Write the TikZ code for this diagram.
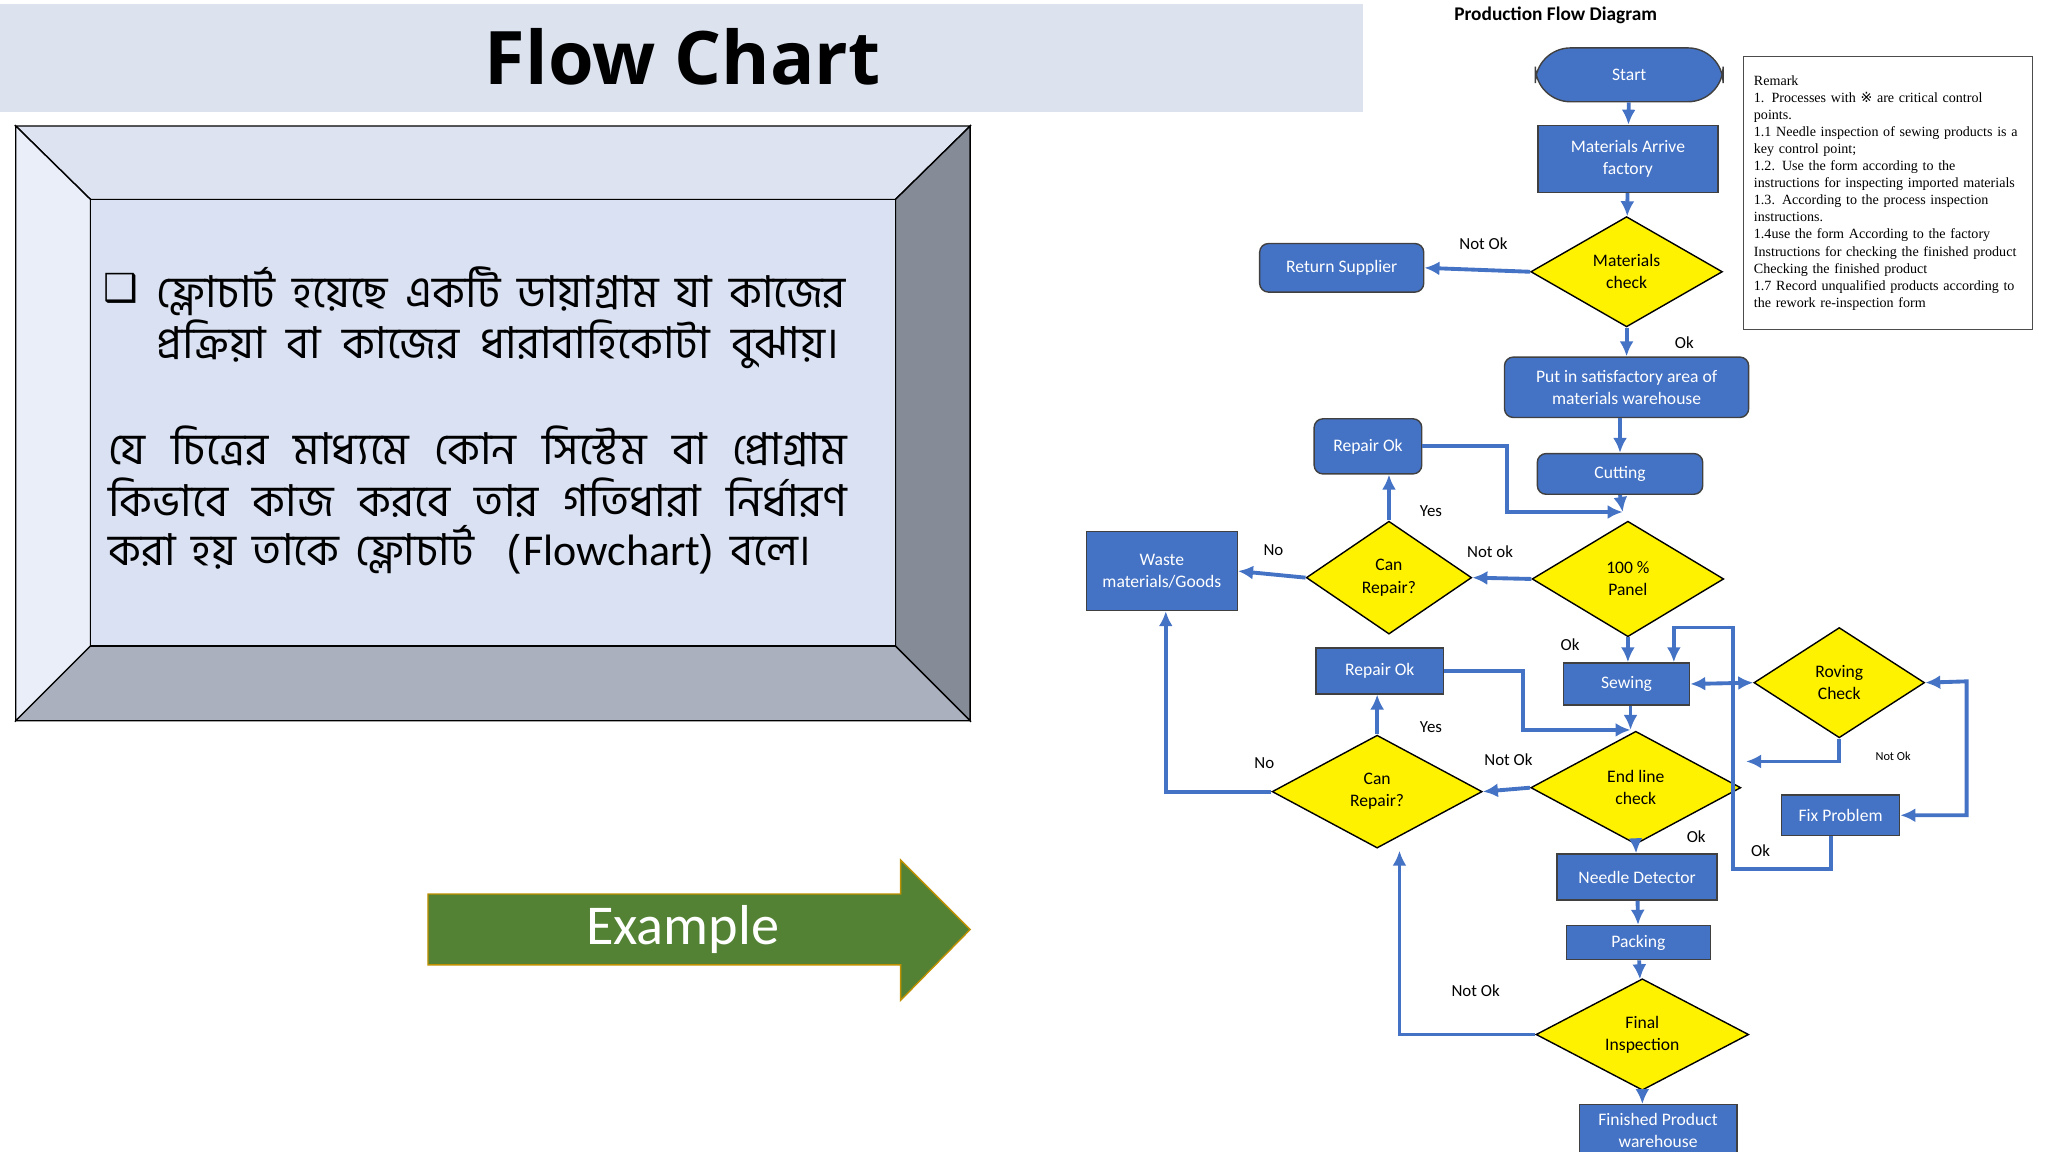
\documentclass[tikz,border=0pt]{standalone}
\usepackage{fontspec}
\usepackage{tikz}
\usetikzlibrary{shapes.geometric, arrows.meta}
\setmainfont{Carlito}
\newfontfamily\bangla[Script=Bengali]{Hind Siliguri}
\newfontfamily\latinfont{Carlito}
\newfontfamily\symfont{DejaVu Sans}
\newfontfamily\titlefont{Open Sans}
\newfontfamily\remfont{Liberation Serif}
\newcommand{\px}{0.013128cm}
\newcommand{\bline}[1]{\makebox[210pt][s]{#1}}

\begin{document}
\begin{tikzpicture}[
    x = 0.013128cm, y = -0.013128cm,
    flow/.style = {line width = 1.1pt, draw = flowblue},
    tip/.style = {-{Latex[length = 1.5mm, width = 1.4mm]}},
    step box/.style = {draw = black!75, fill = flowblue, text = white,
      font = \fontsize{5}{6.3}\selectfont, align = center, inner sep = 1pt},
    rstep/.style = {step box, rounded corners = 2.5pt},
    decision/.style = {diamond, draw = black, fill = yellow, inner sep = 0pt,
      font = \fontsize{5}{6.3}\selectfont, align = center},
    tag/.style = {font = \fontsize{4.8}{5.5}\selectfont},
  ]
  \definecolor{flowblue}{HTML}{4472C4}
  \definecolor{bandgrey}{HTML}{DCE3EF}
  \useasboundingbox (0, 0) rectangle (1560, 877);

  % left slide
  \fill [bandgrey] (0, 3) rectangle (1038, 85);
  \node at (520, 43) [font = \titlefont\bfseries\fontsize{21}{24}\selectfont,
    name = title] {Flow Chart};

  \filldraw [fill = {rgb,255:red,221;green,227;blue,240}] (12, 96) -- (739, 96) -- (682, 152) -- (69, 152) -- cycle;
  \filldraw [fill = {rgb,255:red,234;green,238;blue,248}] (12, 96) -- (69, 152) -- (69, 492) -- (12, 549) -- cycle;
  \filldraw [fill = {rgb,255:red,133;green,140;blue,152}] (739, 96) -- (682, 152) -- (682, 492) -- (739, 549) -- cycle;
  \filldraw [fill = {rgb,255:red,170;green,176;blue,189}] (12, 549) -- (69, 492) -- (682, 492) -- (739, 549) -- cycle;
  \filldraw [fill = {rgb,255:red,217;green,225;blue,242}] (69, 152) rectangle (682, 492);

  \node at (78, 220) [anchor = west, inner sep = 0pt,
    font = \symfont\fontsize{11}{13}\selectfont, name = bullet] {❑};
  \begin{scope}[every node/.style = {anchor = west, inner sep = 0pt,
      font = \bangla\fontsize{12.5}{15}\selectfont}]
    \node at (119, 222) [name = b1] {\makebox[196pt][s]{ফ্লোচার্ট হয়েছে একটি ডায়াগ্রাম যা কাজের}};
    \node at (119, 262) [name = b2] {\makebox[194pt][s]{প্রক্রিয়া বা কাজের ধারাবাহিকোটা বুঝায়।}};
    \node at (82, 340) [name = b3] {\bline{যে চিত্রের মাধ্যমে কোন সিস্টেম বা প্রোগ্রাম}};
    \node at (82, 379) [name = b4] {\bline{কিভাবে কাজ করবে তার গতিধারা নির্ধারণ}};
    \node at (82, 419) [name = b5] {\makebox[200pt][s]{করা হয় তাকে ফ্লোচার্ট \ ({\latinfont\kern1pt Flowchart}) বলে।}};
  \end{scope}

  \filldraw [fill = {rgb,255:red,84;green,130;blue,53}, draw = {rgb,255:red,191;green,144;blue,0}]
    (326, 681) -- (686, 681) -- (686, 655) -- (739, 708) -- (686, 762)
    -- (686, 735) -- (326, 735) -- cycle;
  \node at (520, 708) [text = white, font = \fontsize{16}{18}\selectfont,
    name = example] {Example};

  % flow diagram
  \node at (1185, 12) [font = \bfseries\fontsize{5.5}{6.5}\selectfont,
    name = ftitle] {Production Flow Diagram};

  \node at (1241, 57) [rstep, rounded corners = 10pt, minimum width = 143*\px,
    minimum height = 41*\px, name = start] {Start};
  \node at (1240, 121) [step box, minimum width = 137*\px, minimum height = 51*\px,
    name = arrive] {Materials Arrive\\factory};
  \node at (1239, 207) [decision, minimum width = 146*\px, minimum height = 84*\px,
    name = mcheck] {Materials\\check};
  \node at (1022, 204) [rstep, minimum width = 125*\px, minimum height = 37*\px,
    name = supplier] {Return Supplier};
  \node at (1239, 295) [rstep, minimum width = 186*\px, minimum height = 46*\px,
    name = store] {Put in satisfactory area of\\materials warehouse};
  \node at (1438, 147) [draw = black!70, text width = 204*\px,
    align = left, inner sep = 3pt, minimum height = 208*\px,
    font = \remfont\fontsize{4}{4.85}\selectfont,
    name = remark]
    {\hyphenpenalty=10000 Remark\\1. Processes with {\symfont ※} are critical control points.\\
     1.1 Needle inspection of sewing products is a key control point;\\
     1.2. Use the form according to the instructions for inspecting imported materials\\
     1.3. According to the process inspection instructions.\\
     1.4use the form According to the factory Instructions for checking the finished product Checking the finished product\\
     1.7 Record unqualified products according to the rework re-inspection form};

  \node at (1042, 340) [rstep, minimum width = 82*\px, minimum height = 42*\px,
    name = rok1] {Repair Ok};
  \node at (1234, 361) [rstep, minimum width = 126*\px, minimum height = 31*\px,
    name = cutting] {Cutting};
  \node at (1240, 441) [decision, minimum width = 146*\px, minimum height = 88*\px,
    name = panel] {100 \%\\Panel};
  \node at (1058, 440) [decision, minimum width = 126*\px, minimum height = 86*\px,
    name = can1] {Can\\Repair?};
  \node at (885, 435) [step box, minimum width = 115*\px, minimum height = 60*\px,
    name = waste] {Waste\\materials/Goods};

  \node at (1051, 511) [step box, minimum width = 97*\px, minimum height = 35*\px,
    name = rok2] {Repair Ok};
  \node at (1239, 521) [step box, minimum width = 96*\px, minimum height = 32*\px,
    name = sewing] {Sewing};
  \node at (1401, 520) [decision, minimum width = 130*\px, minimum height = 84*\px,
    name = roving] {Roving\\Check};
  \node at (1246, 600) [decision, minimum width = 160*\px, minimum height = 86*\px,
    name = endline] {End line\\check};
  \node at (1049, 603) [decision, minimum width = 160*\px, minimum height = 86*\px,
    name = can2] {Can\\Repair?};
  \node at (1402, 621) [step box, minimum width = 90*\px, minimum height = 31*\px,
    name = fix] {Fix Problem};
  \node at (1247, 668) [step box, minimum width = 122*\px, minimum height = 35*\px,
    name = needle] {Needle Detector};
  \node at (1248, 718) [step box, minimum width = 110*\px, minimum height = 26*\px,
    name = packing] {Packing};
  \node at (1251, 788) [decision, minimum width = 162*\px, minimum height = 80*\px,
    name = final] {Final\\Inspection};
  \node at (1263, 861) [step box, minimum width = 120*\px, minimum height = 39*\px,
    name = finished] {Finished Product\\warehouse};

  \coordinate (pin) at (1236, 390);
  \coordinate (ein) at (1242, 556);

  \draw [flow, tip] (start) -- (arrive);
  \draw [flow, tip] (arrive) -- (mcheck);
  \draw [flow, tip] (mcheck.west) -- (supplier.east);
  \draw [flow, tip] (mcheck.south) -- (store);
  \draw [flow, tip] (store.south -| cutting) -- (cutting);
  \draw [flow, tip] (cutting.south) -- (pin);
  \draw [flow, tip] (rok1.east) -| (1148, 390) -- (pin);
  \draw [flow, tip] (panel.west) -- (can1.east);
  \draw [flow, tip] (can1.north) -- (rok1.south -| can1.north);
  \draw [flow, tip] (can1.west) -- (waste.east);
  \draw [flow, tip] (panel.south) -- (sewing.north -| panel.south);
  \draw [flow, {Latex[length = 1.5mm, width = 1.4mm]}-{Latex[length = 1.5mm, width = 1.4mm]}]
    (sewing.east) -- (roving.west);
  \draw [flow, tip] (sewing.south -| ein) -- (ein);
  \draw [flow, tip] (rok2.east) -| (1160, 556) -- (ein);
  \draw [flow, tip] (endline.west) -- (can2.east);
  \draw [flow, tip] (can2.north) -- (rok2.south -| can2.north);
  \draw [flow, tip] (can2.west) -| (waste.south -| 888, 0);
  \draw [flow, tip] (endline.south) -- (needle);
  \draw [flow, tip] (roving.south) |- (1330, 580);
  \draw [flow, {Latex[length = 1.5mm, width = 1.4mm]}-{Latex[length = 1.5mm, width = 1.4mm]}]
    (roving.east) -- (1498, 519) |- (fix.east);
  \draw [flow, tip] (fix.south -| 1395, 0) |- (1320, 662) |- (1275, 478)
    -- (sewing.north -| 1275, 0);
  \draw [flow, tip] (needle) -- (packing);
  \draw [flow, tip] (packing) -- (final);
  \draw [flow, tip] (final.west) -| (1066, 648);
  \draw [flow, tip] (final.south) -- (finished.north -| final.south);

  \node at (1130, 186) [tag, name = t1] {Not Ok};
  \node at (1283, 261) [tag, name = t2] {Ok};
  \node at (1135, 420) [tag, name = t3] {Not ok};
  \node at (1090, 389) [tag, name = t4] {Yes};
  \node at (970, 419) [tag, name = t5] {No};
  \node at (1196, 491) [tag, name = t6] {Ok};
  \node at (1149, 579) [tag, name = t7] {Not Ok};
  \node at (1090, 554) [tag, name = t8] {Yes};
  \node at (963, 581) [tag, name = t9] {No};
  \node at (1292, 637) [tag, name = t10] {Ok};
  \node at (1442, 576) [tag, font = \fontsize{3.5}{4}\selectfont, name = t11] {Not Ok};
  \node at (1341, 648) [tag, name = t12] {Ok};
  \node at (1124, 755) [tag, name = t13] {Not Ok};
\end{tikzpicture}
\end{document}
